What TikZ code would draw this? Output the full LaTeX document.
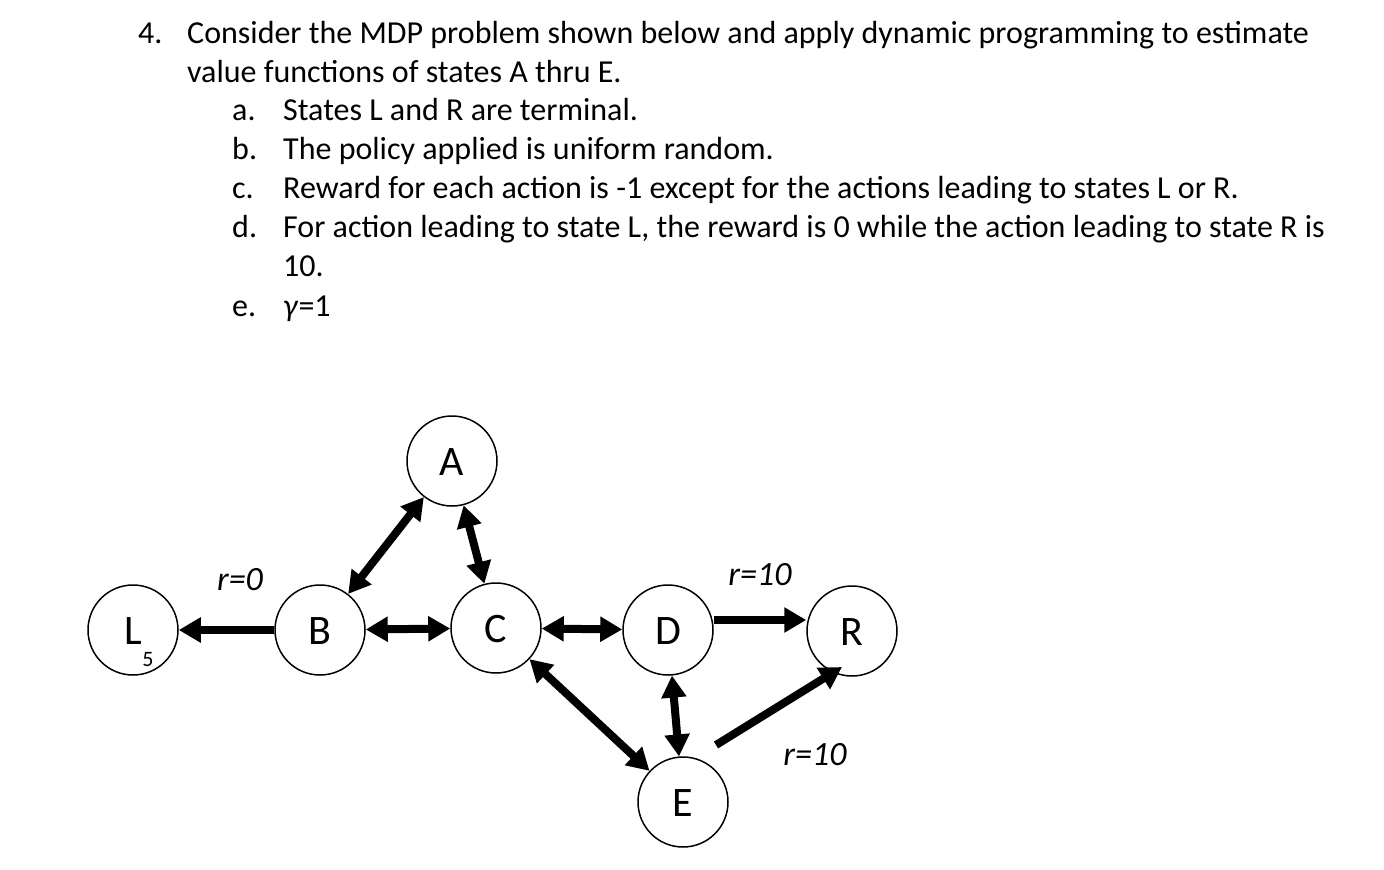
\documentclass[tikz,border=0pt]{standalone}
\usepackage{fontspec}
\setmainfont{Carlito}
\usetikzlibrary{arrows.meta}
\begin{document}
\begin{tikzpicture}[x=1pt,y=-1pt,
  st/.style={circle,draw,line width=1.5pt,minimum size=90pt,inner sep=0pt,text height=29pt,text depth=0pt,font=\fontsize{42}{42}\selectfont},
  ar/.style={line width=8pt,-{Triangle[length=22pt,width=24pt]}},
  dar/.style={line width=8pt,{Triangle[length=22pt,width=24pt]}-{Triangle[length=22pt,width=24pt]}},
  tx/.style={anchor=base west,inner sep=0pt,font=\fontsize{32}{32}\selectfont},
  lb/.style={font=\fontsize{34}{34}\selectfont\itshape}]
\useasboundingbox (0,0) rectangle (1384,870);
\node[tx] (t1) at (138,43) {4.};
\node[tx] (t1b) at (187,43) {Consider the MDP problem shown below and apply dynamic programming to estimate};
\node[tx] (t2) at (187,82) {value functions of states A thru E.};
\node[tx] (la) at (232,120) {a.};
\node[tx] (ta) at (283,120) {States L and R are terminal.};
\node[tx] (lbb) at (232,159) {b.};
\node[tx] (tb) at (283,159) {The policy applied is uniform random.};
\node[tx] (lc) at (232,198) {c.};
\node[tx] (tc) at (283,198) {Reward for each action is -1 except for the actions leading to states L or R.};
\node[tx] (ld) at (232,237) {d.};
\node[tx] (td) at (283,237) {For action leading to state L, the reward is 0 while the action leading to state R is};
\node[tx] (td2) at (283,276) {10.};
\node[tx] (le) at (232,316) {e.};
\node[tx] (te) at (283,316) {\textit{γ}=1};

\node[st] (A) at (452,461) {A};
\node[st] (B) at (320,630) {B};
\node[st] (C) at (496,628) {C};
\node[st] (D) at (668,630) {D};
\node[st] (R) at (852,631) {R};
\node[st] (L) at (133,630) {L};
\node[st] (E) at (683,802) {E};
\node[font=\fontsize{22}{22}\selectfont] (five) at (148,660) {5};

\coordinate (e1) at (716,745);
\coordinate (r1) at (842,667);
\draw[ar] (B) -- (L);
\draw[dar] (B) -- (A);
\draw[dar] (A) -- (C);
\draw[dar] (B) -- (C);
\draw[dar] (C) -- (D);
\draw[dar] (C) -- (E);
\draw[dar] (D) -- (E);
\draw[ar] (D.east |- 0,620) -- (R.west |- 0,620);
\draw[ar] (e1) -- (r1);

\node[lb] (r0) at (240,580) {r=0};
\node[lb] (r1l) at (760,575) {r=10};
\node[lb] (r2) at (815,755) {r=10};
\end{tikzpicture}
\end{document}
